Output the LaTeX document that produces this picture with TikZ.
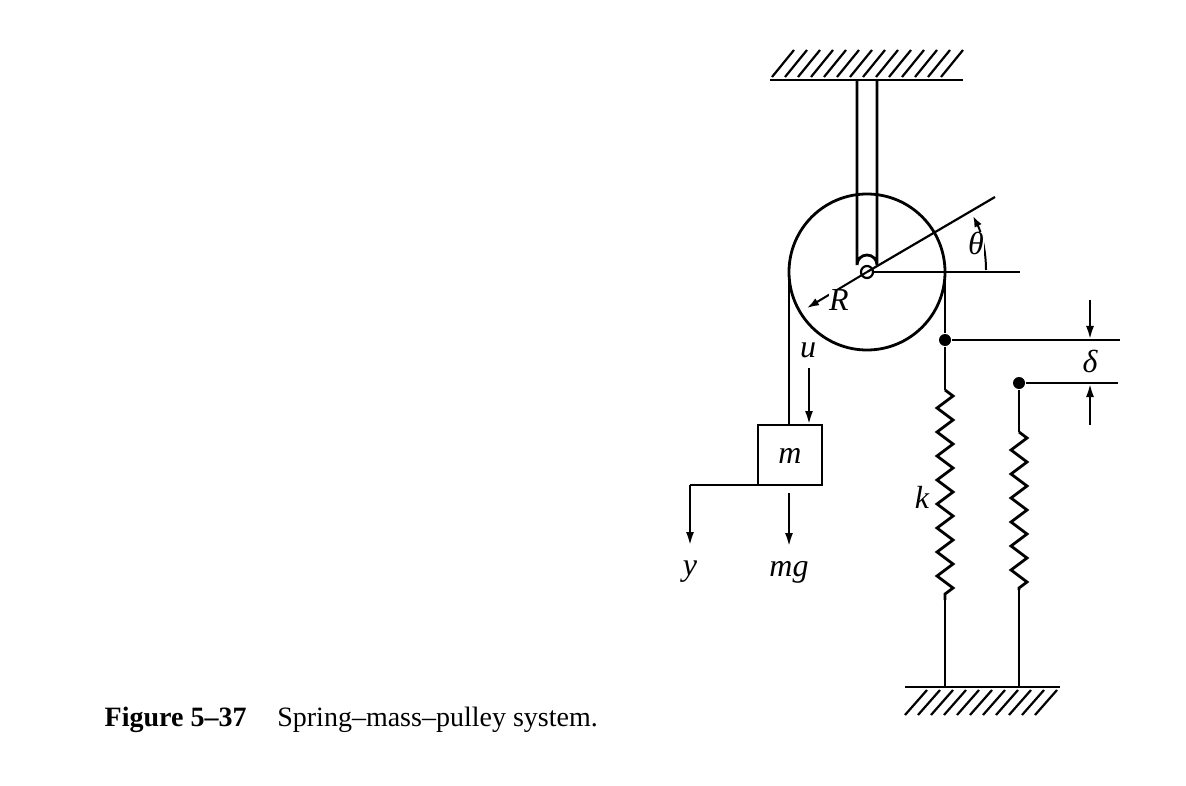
\documentclass[tikz,border=0pt]{standalone}
\usepackage{fontspec}
\setmainfont{Liberation Serif}
\usetikzlibrary{decorations.pathmorphing,arrows.meta}
\begin{document}
\begin{tikzpicture}[x=1pt,y=-1pt,line width=2.8pt,
  arr/.style={-{Latex[length=14pt,width=8pt]},line width=2.6pt},
  lbl/.style={font=\fontsize{32}{34}\selectfont\itshape},
  spr/.style={decorate,decoration={zigzag,segment length=24pt,amplitude=8pt}},
  dotn/.style={circle,fill,inner sep=0pt,minimum size=12pt}]
\useasboundingbox (0,0) rectangle (1186,786);
% ceiling
\draw (770,80) -- (963,80);
\foreach \x in {772,785,...,950} \draw[line width=2.2pt] (\x,77) -- (\x+22,50);
% rod
\draw (857,80) -- (857,265) arc[start angle=180,end angle=360,radius=10] -- (877,80);
% pulley
\coordinate (c) at (867,272);
\draw (c) circle[radius=78];
\draw[line width=2.2pt] (c) circle[radius=6];
\draw[line width=2.2pt] (873,272) -- (1020,272);
\draw[line width=2.2pt] (c) -- (995,197);
\draw[line width=2pt,-{Latex[length=11pt,width=8pt]}] (986,270) arc[start angle=0,end angle=-27,radius=119];
\node[lbl,fill=white,inner sep=0pt] (th) at (976,243) {θ};
\draw[line width=2pt,-{Latex[length=12pt,width=8pt]}] (c) -- (807,308);
\node[lbl,fill=white,inner sep=0pt] (R) at (839,300) {R};
% left rope & mass
\node[draw,minimum width=64pt,minimum height=60pt,inner sep=0pt] (m) at (790,455) {};
\node[lbl] at (790,456) {m};
\draw (789,272) -- (789,425);
\draw[arr] (809,368) -- (809,425);
\node[lbl] (u) at (808,350) {u};
\draw (758,485) -- (690,485);
\draw[arr] (690,485) -- (690,546);
\node[lbl] (y) at (690,572) {y};
\draw[arr] (789,493) -- (789,547);
\node[lbl] (mg) at (789,572) {mg};
% right spring
\node[dotn] (d1) at (945,340) {};
\draw (945,272) -- (d1);
\draw[line width=2.2pt] (d1) -- (1120,340);
\draw (d1) -- (945,390);
\draw[spr] (945,390) -- (945,600);
\draw (945,600) -- (945,687);
\node[lbl] (k) at (922,497) {k};
% second spring
\node[dotn] (d2) at (1019,383) {};
\draw[line width=2.2pt] (d2) -- (1118,383);
\draw (d2) -- (1019,432);
\draw[spr] (1019,432) -- (1019,590);
\draw (1019,590) -- (1019,687);
% ground
\draw (905,687) -- (1060,687);
\foreach \x in {905,918,...,1045} \draw[line width=2.2pt] (\x,715) -- (\x+22,690);
% delta
\draw[arr] (1090,300) -- (1090,340);
\draw[arr] (1090,425) -- (1090,383);
\node[lbl] (dl) at (1090,361) {δ};
% caption
\node[anchor=base west,font=\fontsize{28}{32}\selectfont] (cap) at (100,726) {\textbf{Figure 5–37}\hspace{1.1em}Spring–mass–pulley system.};
\end{tikzpicture}
\end{document}
